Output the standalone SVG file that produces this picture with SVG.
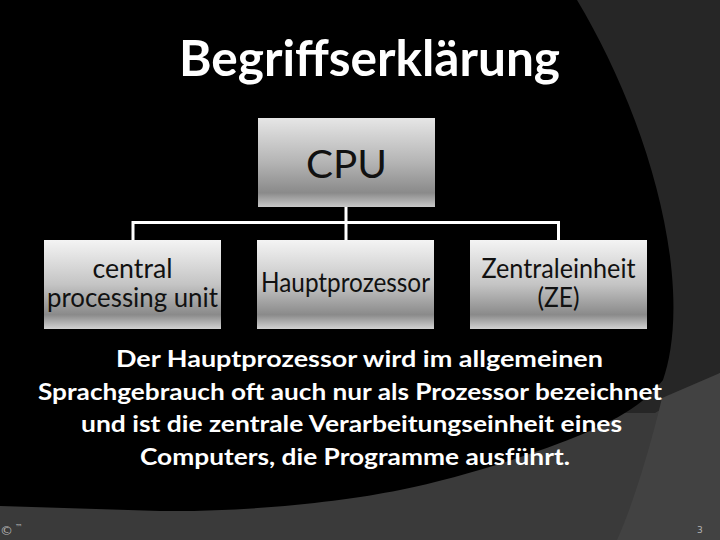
<svg xmlns="http://www.w3.org/2000/svg" width="720" height="540" viewBox="0 0 720 540">
  <defs>
    <linearGradient id="boxGrad" x1="0" y1="0" x2="0" y2="1">
      <stop offset="0" stop-color="#f4f4f4"/>
      <stop offset="0.5" stop-color="#c4c4c4"/>
      <stop offset="0.84" stop-color="#8a8a8a"/>
      <stop offset="1" stop-color="#d2d2d2"/>
    </linearGradient>
    <linearGradient id="cpuGrad" x1="0" y1="0" x2="0" y2="1">
      <stop offset="0" stop-color="#e6e6e6"/>
      <stop offset="0.5" stop-color="#b4b4b4"/>
      <stop offset="0.84" stop-color="#8a8a8a"/>
      <stop offset="1" stop-color="#c8c8c8"/>
    </linearGradient>
  </defs>
  <style>
    .title { font-family: Lato, "Liberation Sans", sans-serif; font-weight: bold; font-size: 49px; fill: #ffffff; }
    .node { stroke: none; }
    .nlabel { font-family: Lato, "Liberation Sans", sans-serif; font-size: 26px; fill: #111111; }
    .cpulabel { font-family: Lato, "Liberation Sans", sans-serif; font-size: 38px; fill: #111111; }
    .body { font-family: Lato, "Liberation Sans", sans-serif; font-weight: bold; font-size: 23px; fill: #ffffff; }
    .foot { font-family: "DejaVu Sans", sans-serif; fill: #b4b4b4; }
    .conn { stroke: #ffffff; stroke-width: 3; fill: none; }
  </style>

  <!-- background -->
  <rect x="0" y="0" width="720" height="540" fill="#3a3a3a"/>
  <path d="M540,0 L720,0 L720,373 L655,413 L540,413 Z" fill="#262626"/>
  <path d="M662,398 C652,440 635,500 617,540 L720,540 L720,373 Z" fill="#424242"/>
  <path d="M577,0 C625,80 668,190 673,290 C675,330 670,360 663,380 C640,410 600,428 560,443 C510,462 450,480 400,490 C340,502 250,512 160,511 L0,506 L0,0 Z" fill="#000000"/>

  <text class="title" x="369.5" y="76" text-anchor="middle" textLength="381" lengthAdjust="spacingAndGlyphs">Begriffserklärung</text>

  <g id="connectors">
    <path class="conn" d="M346,207 V222.5"/>
    <path class="conn" d="M133,240 V222.5 H558.5 V240"/>
    <path class="conn" d="M346,222.5 V240"/>
  </g>

  <g id="cpu">
    <rect class="node" x="258" y="118" width="177" height="89" fill="url(#cpuGrad)"/>
    <text class="cpulabel" x="346.5" y="178" text-anchor="middle" textLength="81" lengthAdjust="spacingAndGlyphs">CPU</text>
  </g>

  <g id="central-processing-unit">
    <rect class="node" x="44" y="240" width="177" height="89" fill="url(#boxGrad)"/>
    <text class="nlabel" x="132.5" y="277.7" text-anchor="middle" textLength="80" lengthAdjust="spacingAndGlyphs">central</text>
    <text class="nlabel" x="132.5" y="306.7" text-anchor="middle" textLength="171" lengthAdjust="spacingAndGlyphs">processing unit</text>
  </g>

  <g id="hauptprozessor">
    <rect class="node" x="257" y="240" width="177" height="89" fill="url(#boxGrad)"/>
    <text class="nlabel" x="345.5" y="292" text-anchor="middle" textLength="169" lengthAdjust="spacingAndGlyphs">Hauptprozessor</text>
  </g>

  <g id="zentraleinheit">
    <rect class="node" x="470" y="240" width="177" height="89" fill="url(#boxGrad)"/>
    <text class="nlabel" x="558.5" y="277.7" text-anchor="middle" textLength="154" lengthAdjust="spacingAndGlyphs">Zentraleinheit</text>
    <text class="nlabel" x="558.5" y="306.7" text-anchor="middle" textLength="42" lengthAdjust="spacingAndGlyphs">(ZE)</text>
  </g>

  <g id="description">
    <text class="body" x="359.5" y="367" text-anchor="middle" textLength="487" lengthAdjust="spacingAndGlyphs">Der Hauptprozessor wird im allgemeinen</text>
    <text class="body" x="350" y="399.5" text-anchor="middle" textLength="624" lengthAdjust="spacingAndGlyphs">Sprachgebrauch oft auch nur als Prozessor bezeichnet</text>
    <text class="body" x="351.5" y="432" text-anchor="middle" textLength="541" lengthAdjust="spacingAndGlyphs">und ist die zentrale Verarbeitungseinheit eines</text>
    <text class="body" x="355" y="464.5" text-anchor="middle" textLength="430" lengthAdjust="spacingAndGlyphs">Computers, die Programme ausführt.</text>
  </g>

  <text class="foot" x="0" y="535" style="font-size:13px">©</text>
  <text class="foot" x="15" y="530" style="font-size:8px">™</text>
  <text class="foot" x="697" y="533" style="font-size:9px">3</text>
</svg>
